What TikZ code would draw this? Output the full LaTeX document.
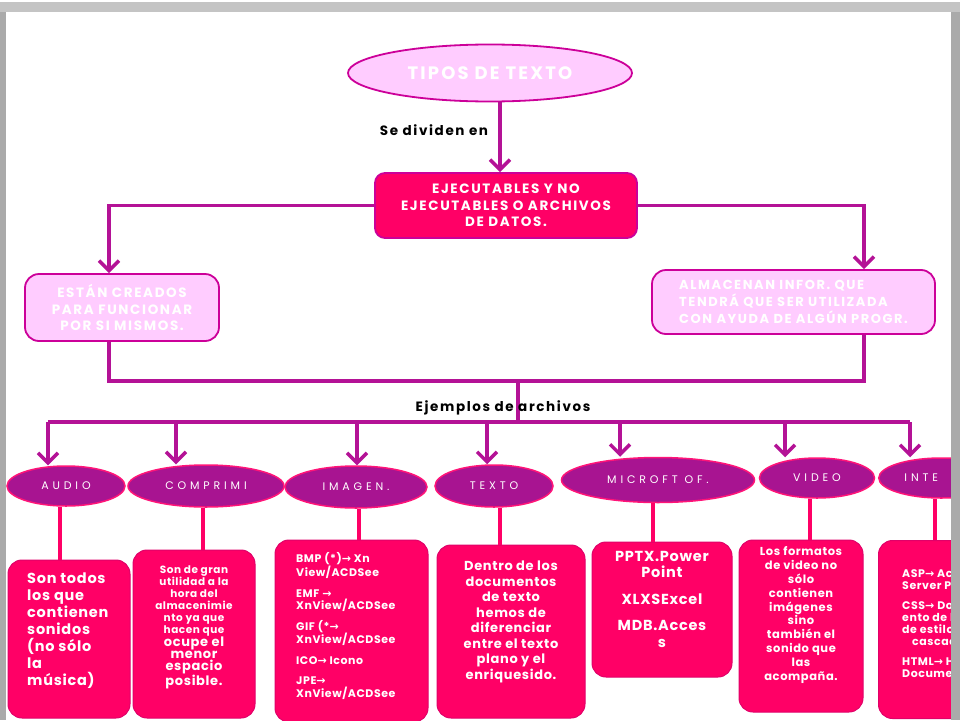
\documentclass[tikz,border=0pt]{standalone}
\usepackage{fontspec}
\setmainfont{Poppins}
\newfontfamily\dejavu{DejaVu Sans}
\newfontfamily\elfont[LetterSpace=35]{Poppins}
\newfontfamily\widef[LetterSpace=12]{Poppins}
\newfontfamily\bodyf[LetterSpace=5]{Poppins}
\usetikzlibrary{arrows.meta,shapes.geometric}
\newcommand{\ra}{{\dejavu\char"2192}}
\definecolor{lineP}{RGB}{180,18,150}
\definecolor{hotP}{RGB}{255,0,102}
\definecolor{hotB}{RGB}{225,0,105}
\definecolor{lightP}{RGB}{255,204,255}
\definecolor{magB}{RGB}{204,0,153}
\definecolor{ellP}{RGB}{168,20,145}
\definecolor{ellB}{RGB}{255,20,120}
\definecolor{frameG}{RGB}{170,170,170}
\begin{document}
\begin{tikzpicture}[x=1pt,y=-1pt,
  conn/.style={draw=lineP, line width=3.5pt},
  arr/.style={conn, -{Straight Barb[length=10pt,width=20pt,line width=3.5pt]}},
  stem/.style={draw=hotP, line width=4.5pt},
  topell/.style={ellipse, draw=magB, line width=1.8pt, fill=lightP, inner sep=0pt, text=white},
  exebox/.style={rectangle, rounded corners=10pt, draw=magB, line width=1.8pt, fill=hotP, inner sep=0pt, text=white},
  lightbox/.style={rectangle, rounded corners=14pt, draw=magB, line width=1.8pt, fill=lightP, inner sep=0pt, text=white},
  ell/.style={ellipse, draw=ellB, line width=1.5pt, fill=ellP, inner sep=0pt, text=white, font=\elfont\fontsize{11}{12}\selectfont},
  lowbox/.style={rectangle, rounded corners=14pt, draw=hotB, line width=1pt, fill=hotP, inner sep=0pt},
  txt/.style={inner sep=0pt, text=white},
  lbl/.style={inner sep=0pt, text=black, font=\widef\fontsize{13.5}{15}\selectfont\bfseries}
]
\useasboundingbox (0,0) rectangle (960,720);
\fill[white] (0,0) rectangle (960,720);

% top level
\node[topell, minimum width=284pt, minimum height=57pt] (tipos) at (490,73)
  {\widef\fontsize{18}{20}\selectfont\bfseries TIPOS DE TEXTO};
\node[exebox, minimum width=262pt, minimum height=65pt, align=center,
  font=\widef\fontsize{13.5}{16.5}\selectfont\bfseries] (exe) at (506,205.5)
  {EJECUTABLES Y NO\\EJECUTABLES O ARCHIVOS\\DE DATOS.};
\node[lbl] (sediv) at (434,130) {Se dividen en};

\node[lightbox, minimum width=194pt, minimum height=67pt, align=center,
  font=\widef\fontsize{13.5}{16.5}\selectfont\bfseries] (lbox) at (122,307.5)
  {ESTÁN CREADOS\\PARA FUNCIONAR\\POR SI MISMOS.};
\node[lightbox, minimum width=283pt, minimum height=64pt, align=left,
  font=\widef\fontsize{13}{17}\selectfont\bfseries] (rbox) at (793.5,302)
  {ALMACENAN INFOR. QUE\\TENDRÁ QUE SER UTILIZADA\\CON AYUDA DE ALGÚN PROGR.};

\coordinate (ax) at (500,0);
\coordinate (lx) at (109,0);
\coordinate (rx) at (864,0);
\coordinate (bot) at (518,381);
\coordinate (hl) at (518,422);

\draw[arr] (ax |- tipos.south) -- (ax |- exe.north);
\draw[arr] (exe.west) -- (lx |- exe.west) -- (lx |- lbox.north);
\draw[arr] (exe.east) -- (rx |- exe.east) -- (rx |- rbox.north);
\draw[conn] (lx |- lbox.south) -- (lx |- bot) -- (rx |- bot) -- (rx |- rbox.south);
\draw[conn] (bot) -- (hl);
\node[lbl] (ejem) at (503,408) {Ejemplos de archivos};

% second level ellipses
\node[ell, minimum width=118pt, minimum height=40pt] (e1) at (66,486) {AUDIO};
\node[ell, minimum width=156pt, minimum height=42pt] (e2) at (206,486) {COMPRIMI};
\node[ell, minimum width=142pt, minimum height=42pt] (e3) at (356,487) {IMAGEN.};
\node[ell, minimum width=118pt, minimum height=42pt] (e4) at (494,486) {TEXTO};
\node[ell, minimum width=193pt, minimum height=45pt] (e5) at (658,480) {MICROFT OF.};
\node[ell, minimum width=115pt, minimum height=40pt] (e6) at (817,478) {VIDEO};
\node[ell, minimum width=125pt, minimum height=40pt, anchor=west] (e7) at (878,478) {\hspace*{-40pt}INTE};

\coordinate (hA) at (48,422);
\coordinate (hB) at (910,422);
\draw[conn] (hA) -- (hB);
\coordinate (a1) at (48,422);
\coordinate (a2) at (176,422);
\coordinate (a3) at (357,422);
\coordinate (a4) at (487,422);
\coordinate (a5) at (620,422);
\coordinate (a6) at (785,422);
\coordinate (a7) at (910,422);
\draw[arr] (a1) -- (a1 |- e1.north);
\draw[arr] (a2) -- (a2 |- e2.north);
\draw[arr] (a3) -- (a3 |- e3.north);
\draw[arr] (a4) -- (a4 |- e4.north);
\draw[arr] (a5) -- (a5 |- e5.north);
\draw[arr] (a6) -- (a6 |- e6.north);
\draw[arr] (a7) -- (a7 |- e7.north);

% boxes
\node[lowbox, minimum width=122pt, minimum height=158pt] (b1) at (69,639) {};
\node[lowbox, minimum width=122pt, minimum height=168pt] (b2) at (194,634) {};
\node[lowbox, minimum width=153pt, minimum height=182pt] (b3) at (351.5,631) {};
\node[lowbox, minimum width=148pt, minimum height=173pt] (b4) at (511,631.5) {};
\node[lowbox, minimum width=140pt, minimum height=135pt] (b5) at (662,609.5) {};
\node[lowbox, minimum width=124pt, minimum height=172pt] (b6) at (801,626) {};
\node[lowbox, minimum width=130pt, minimum height=178pt, anchor=north west] (b7) at (878,540) {};

\coordinate (s1) at (60,0);
\coordinate (s2) at (203,0);
\coordinate (s3) at (359,0);
\coordinate (s4) at (500,0);
\coordinate (s5) at (653,0);
\coordinate (s6) at (810,0);
\coordinate (s7) at (935,0);
\draw[stem] (s1 |- e1.south) -- (s1 |- b1.north);
\draw[stem] (s2 |- e2.south) -- (s2 |- b2.north);
\draw[stem] (s3 |- e3.south) -- (s3 |- b3.north);
\draw[stem] (s4 |- e4.south) -- (s4 |- b4.north);
\draw[stem] (s5 |- e5.south) -- (s5 |- b5.north);
\draw[stem] (s6 |- e6.south) -- (s6 |- b6.north);
\draw[stem] (s7 |- e7.south) -- (s7 |- b7.north);

% box texts
\node[txt, align=left, anchor=west, font=\bodyf\fontsize{14.5}{17}\selectfont\bfseries] (t1) at (27,631)
  {Son todos\\los que\\contienen\\sonidos\\(no sólo\\la\\música)};
\node[txt, align=center, font=\bodyf\fontsize{10.5}{12}\selectfont\bfseries] (t2) at (194,627)
  {Son de gran\\utilidad a la\\hora del\\almacenimie\\nto ya que\\hacen que\\
   {\fontsize{13}{13.5}\selectfont ocupe el}\\{\fontsize{13}{13.5}\selectfont menor}\\
   {\fontsize{13}{13.5}\selectfont espacio}\\{\fontsize{13}{13.5}\selectfont posible.}};
\node[txt, align=left, anchor=west, font=\bodyf\fontsize{11}{12.5}\selectfont\bfseries] (t3) at (296,626)
  {BMP (*)\ra{} Xn\\View/ACDSee\\[8pt]EMF \ra\\XnView/ACDSee\\[8pt]GIF (*\ra\\XnView/ACDSee\\[8pt]ICO\ra{} Icono\\[8pt]JPE\ra\\XnView/ACDSee};
\node[txt, align=center, font=\bodyf\fontsize{13}{15.5}\selectfont\bfseries] (t4) at (511,622)
  {Dentro de los\\documentos\\de texto\\hemos de\\diferenciar\\entre el texto\\plano y el\\enriquesido.};
\node[txt, align=center, font=\bodyf\fontsize{14.5}{16.5}\selectfont\bfseries] (t5) at (662,599)
  {PPTX.Power\\Point\\[10pt]XLXSExcel\\[10pt]MDB.Acces\\s};
\node[txt, align=center, font=\bodyf\fontsize{11.5}{13.8}\selectfont\bfseries] (t6) at (801,615)
  {Los formatos\\de video no\\sólo\\contienen\\imágenes\\sino\\también el\\sonido que\\las\\acompaña.};
\node[txt, align=left, anchor=west, font=\bodyf\fontsize{11}{12}\selectfont\bfseries] (t7) at (902,624)
  {ASP\ra{} Ac\\Server Po\\[8pt]CSS\ra{} Doc\\ento de h\\de estilos\\\hspace*{10pt}cascad\\[8pt]HTML\ra{} HT\\Documen};

% window frame
\fill[frameG!70] (0,2) rectangle (960,12);
\fill[frameG] (0,12) rectangle (6,720);
\fill[frameG] (951,12) rectangle (960,720);
\end{tikzpicture}
\end{document}
